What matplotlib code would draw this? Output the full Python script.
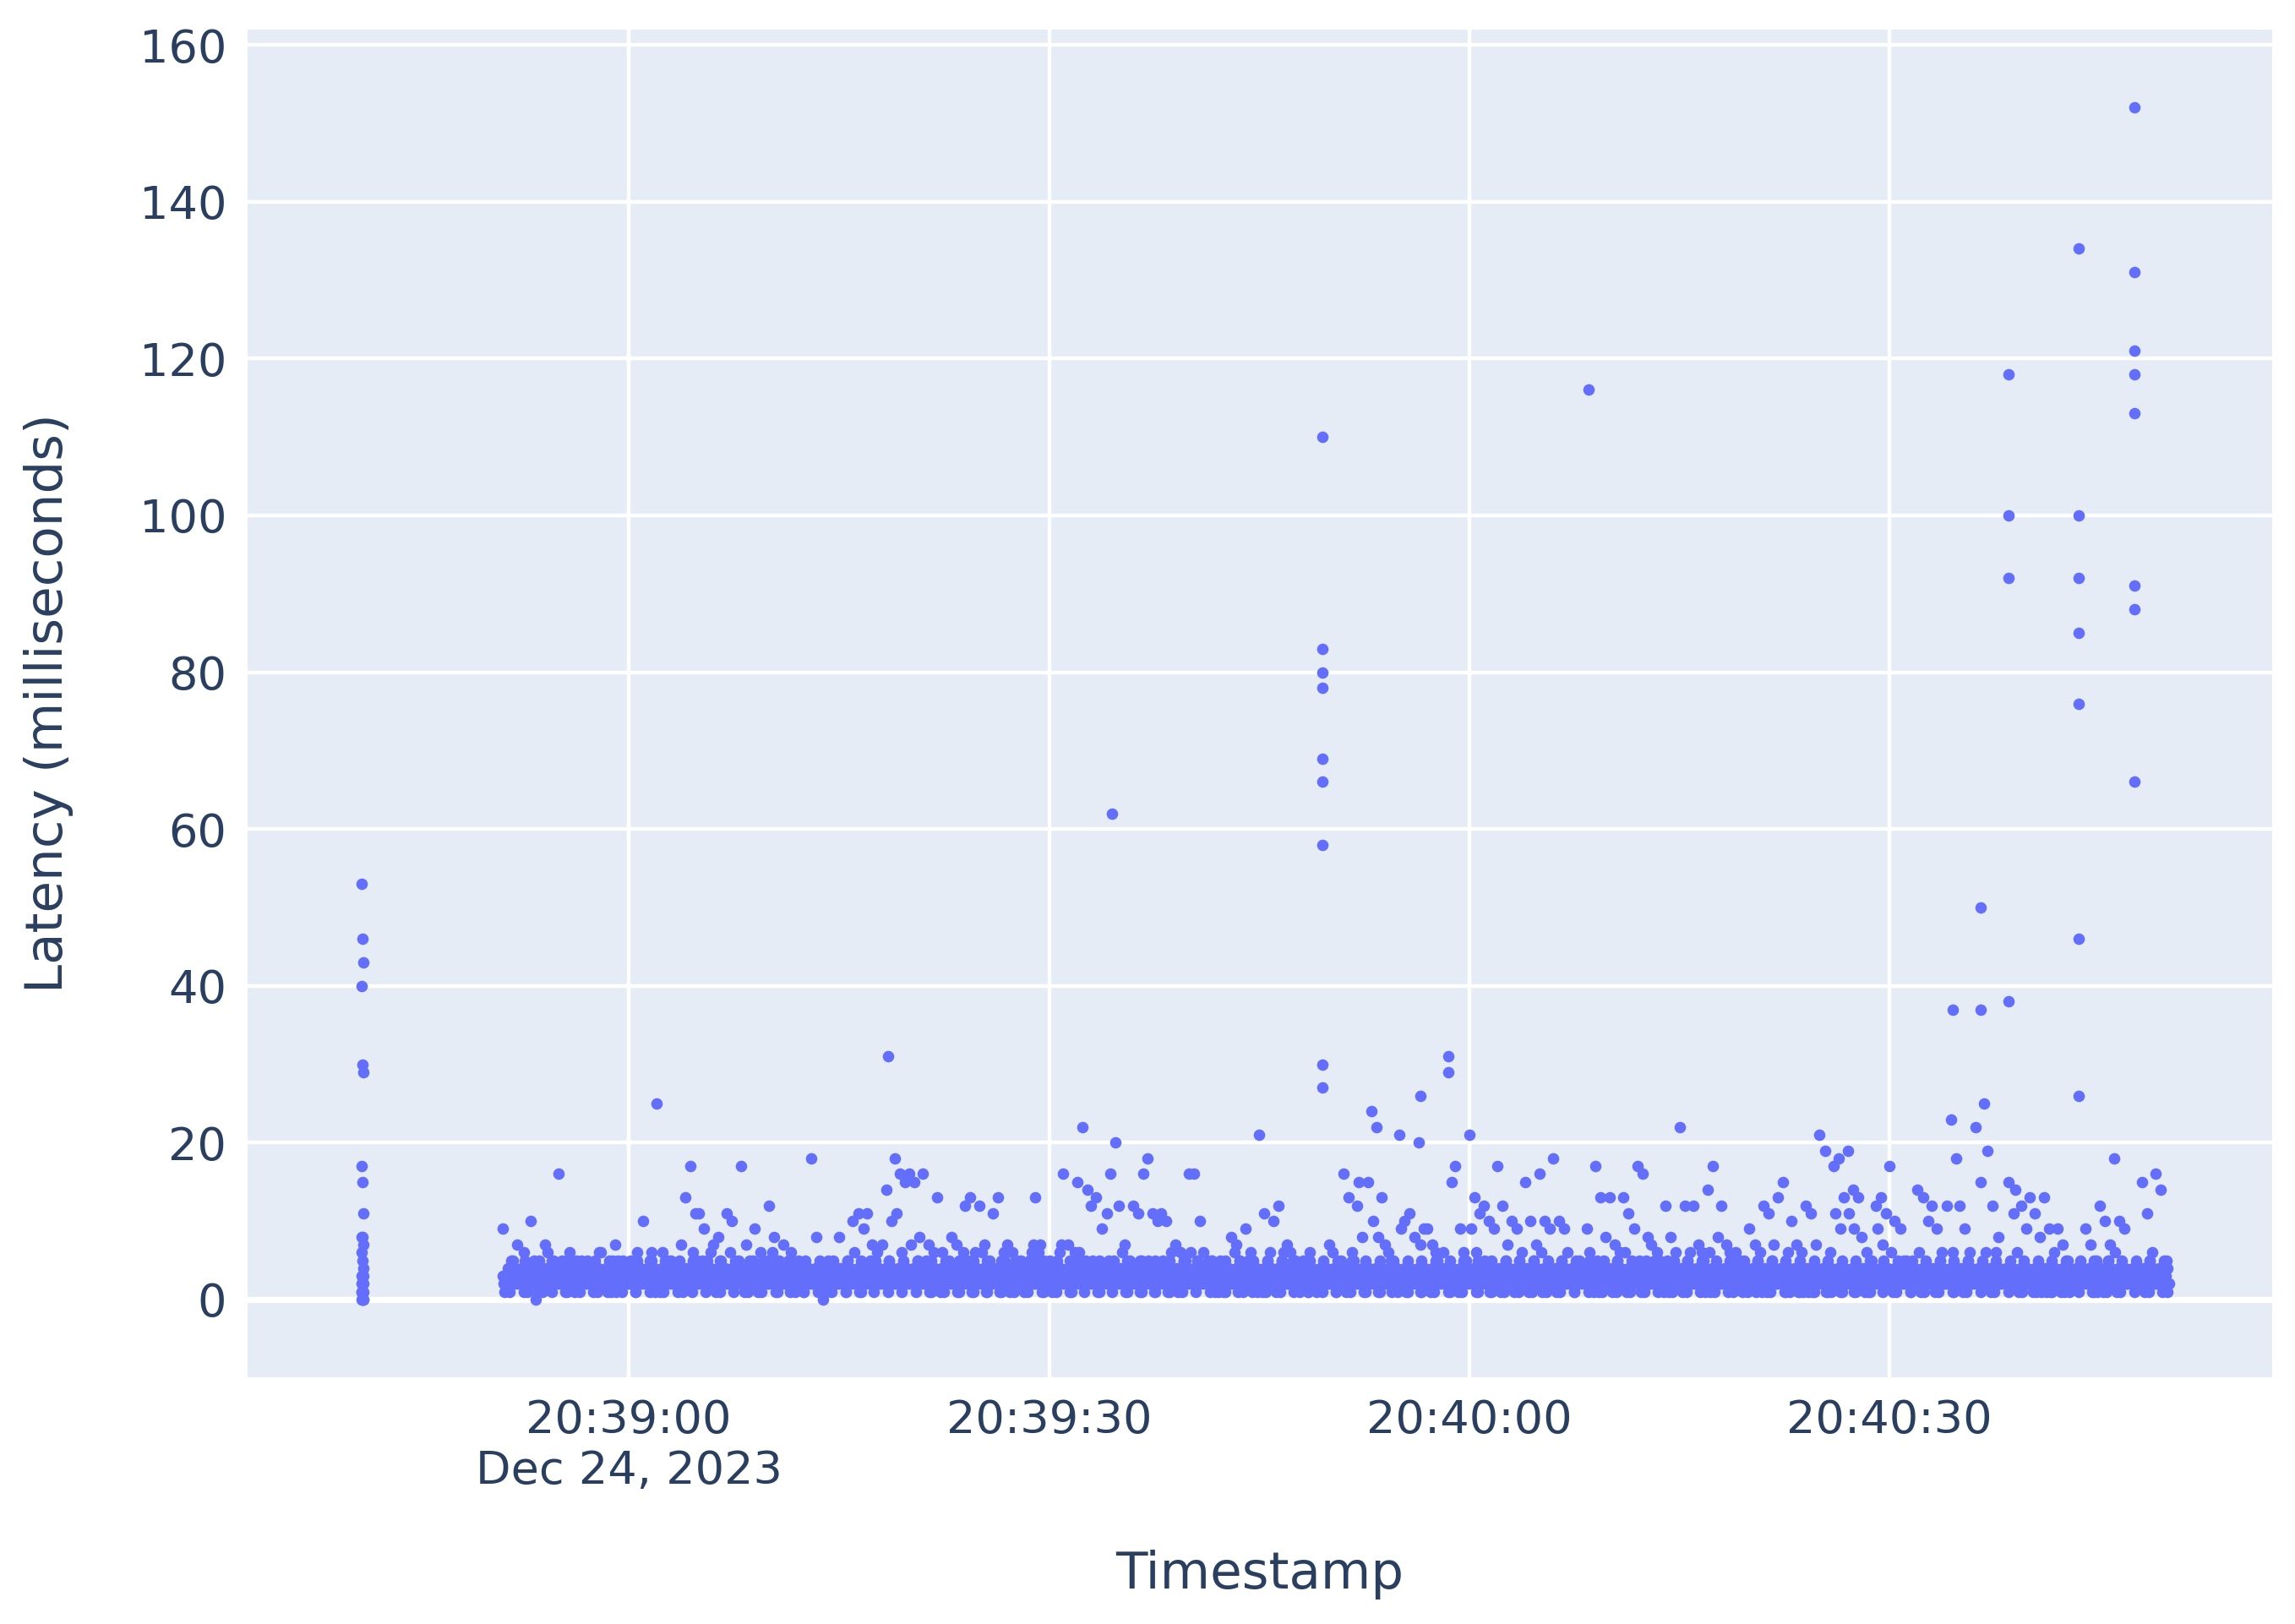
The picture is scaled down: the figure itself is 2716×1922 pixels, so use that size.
import numpy as np
import matplotlib.pyplot as plt

# seconds relative to 20:39:00, latency in ms
burst_t = -19.0
burst_vals = [53, 46, 43, 40, 30, 29, 17, 15, 11, 8, 8, 7, 6, 5, 4, 3, 3, 3, 2, 2, 2, 1, 1, 1, 1, 0, 0, 0, 0, 0]

# per-second baseline readings, starting at t=-9
base_start = -9
base = [
    "9 3 5 1 2", "7 2 1 3 6 2", "10 0 2 4 3 1 5", "7 3 2 4 5 3 6 2",
    "16 3 6 2 4 3 5 1", "3 2 4 1 3 2 5 3", "5 2 1 3 4 6 2 3", "6 3 1 2 4 5 3 2", "7 2 3 1 4 2 5 3",
    "3 2 4 5 1 3 2 6", "10 4 2 3 5 1 3 6", "25 6 3 2 4 5 1 3", "5 3 7 2 4 1 3 2", "13 17 11 4 3 5 2 6",
    "11 9 3 4 2 6 5 3", "7 8 3 2 5 4 1 3", "11 10 4 3 2 5 6 3", "17 7 3 2 4 5 1 3", "9 6 4 3 2 5 1 3",
    "12 8 5 3 2 4 6 1", "7 5 3 2 4 1 3 6", "4 3 2 5 1 3 2 4", "18 8 3 2 4 0 3 1",
    "3 2 4 1 3 2 5 3", "8 3 2 4 1 3 2 5", "10 11 9 6 3 4 2 1", "11 7 6 3 4 2 5 3", "31 14 10 7 4 3 2 5",
    "18 16 15 11 6 3 4 2", "16 15 8 7 4 3 2 5", "16 7 6 4 3 2 5 1", "13 6 4 3 2 5 1 3", "8 7 4 3 2 6 3 1",
    "12 13 6 4 3 2 5 1", "12 7 5 3 2 4 6 1", "11 13 6 4 3 5 2 1", "7 6 5 4 3 2 1 3", "5 3 6 4 2 7 1 3",
    "13 7 3 5 2 4 6 1", "5 4 6 3 2 7 1 3", "16 7 4 3 5 6 2 1", "15 22 14 6 4 3 5 2", "12 13 9 5 3 2 4 1",
    "62 16 20 11 4 3 5 2", "12 7 5 4 3 2 6 1", "12 11 16 4 5 3 2 1", "18 11 10 5 3 4 2 1", "11 10 6 5 3 2 4 1",
    "7 6 5 4 3 2 1 5", "16 16 10 6 3 4 2 5", "6 5 3 4 2 1 3 5", "3 2 4 1 3 2 5 1", "8 7 3 2 4 1 6 5",
    "9 6 3 2 4 1 5 3", "21 11 6 3 2 4 1 5", "10 12 6 3 2 4 1 5", "7 5 3 2 4 1 6 3", "4 3 2 5 1 3 2 6",
    "110 83 80 78 69 66 58 30 27 3 2 1", "7 4 3 2 1 5 6 3", "16 13 5 3 2 4 1 6", "12 8 15 15 4 3 2 1", "24 22 13 10 8 3 2 1",
    "7 5 3 2 4 1 6 3", "21 10 11 9 4 3 2 1", "26 20 9 8 7 3 2 1", "9 7 5 3 2 4 1 6", "31 29 15 6 3 2 4 1",
    "17 9 5 3 2 4 1 6", "21 13 11 9 6 3 2 1", "12 10 9 5 3 2 4 1", "17 12 7 4 3 2 1 5", "10 9 6 3 2 4 1 5",
    "15 10 7 4 3 2 1 5", "16 10 9 6 3 2 1 4", "18 10 9 4 3 2 1 5", "6 4 3 2 1 5 3 2", "116 9 5 3 2 1 4 6",
    "17 13 8 5 3 2 1 4", "13 7 6 4 3 2 1 5", "13 11 9 6 3 2 1 4", "17 16 8 5 3 2 1 4", "7 6 4 3 2 1 5 3",
    "12 8 6 5 3 2 1 4", "22 12 6 4 3 2 1 5", "12 7 5 3 2 1 4 6", "14 17 8 6 3 2 1 4", "12 7 5 3 2 1 4 6",
    "6 5 4 3 2 1 5 3", "9 7 6 3 2 1 4 5", "12 11 7 4 3 2 1 5", "13 15 6 3 2 1 4 1", "10 7 6 3 2 1 4 1",
    "12 11 7 4 3 2 1 1", "21 19 6 3 2 1 4 1", "17 18 13 11 9 3 2 1", "19 14 13 11 9 3 2 1", "8 6 5 4 3 2 1 1",
    "12 13 11 9 7 4 3 2", "17 10 9 6 3 2 1 4", "5 4 3 2 1 3 5 2", "14 13 10 6 3 2 1 4", "12 9 6 4 3 2 1 5",
    "37 23 18 12 6 3 2 1", "12 9 6 4 3 2 1 5", "50 37 25 22 15 6 3 2", "19 12 8 4 3 2 1 6", "118 100 92 38 15 11 3 2",
    "14 12 9 6 3 2 1 4", "13 11 8 3 2 1 1 4", "13 9 6 4 3 2 1 1", "9 7 5 3 2 1 1 4", "134 100 92 85 76 46 26 3",
    "9 7 5 3 2 1 4 1", "12 10 7 4 3 2 1 5", "18 10 9 6 3 2 1 4", "152 131 121 118 113 91 88 66", "15 11 6 4 3 2 1 5",
    "16 14 5 3 2 1 4 2",
]
# the steady readings logged every second alongside the ones above
typical_low = [3, 2, 4, 3, 1, 2, 3, 5, 2, 4, 3, 2, 3, 4]

xs, ys = [], []
for i, v in enumerate(burst_vals):
    xs.append(burst_t + (i % 3) * 0.08 - 0.1)
    ys.append(v)
for i, row in enumerate(base):
    vals = [int(s) for s in row.split()]
    for k, v in enumerate(vals):
        # large readings arrive together, so they share one timestamp
        xs.append(base_start + i + (0.5 if v > 25 else (k * 0.37) % 1.0))
        ys.append(v)
    for k, v in enumerate(typical_low):
        xs.append(base_start + i + (k * 0.37) % 1.0)
        ys.append(v)

fc = '#2a3f5f'
fig = plt.figure(figsize=(13.58, 9.61), dpi=200)
ax = fig.add_axes([0.108, 0.152, 0.882, 0.830])
ax.set_facecolor('#e5ecf6')
ax.scatter(xs, ys, s=24, color='#636efa', linewidths=0, zorder=3)
ax.set_xlim(-27.2, 117.3)
ax.set_ylim(-9.9, 162)
ax.set_xticks([0, 30, 60, 90])
ax.set_xticklabels(['20:39:00\nDec 24, 2023', '20:39:30', '20:40:00', '20:40:30'])
ax.set_yticks(range(0, 161, 20))
ax.grid(color='white', linewidth=1.6, zorder=0)
ax.axhline(0, color='white', linewidth=2.6, zorder=1)
for s in ax.spines.values():
    s.set_visible(False)
ax.tick_params(length=0, labelsize=19.5, colors=fc, pad=9)
ax.set_xlabel('Timestamp', fontsize=22, color=fc, labelpad=24)
ax.set_ylabel('Latency (milliseconds)', fontsize=22, color=fc, labelpad=28)
fig.savefig('out.png')
